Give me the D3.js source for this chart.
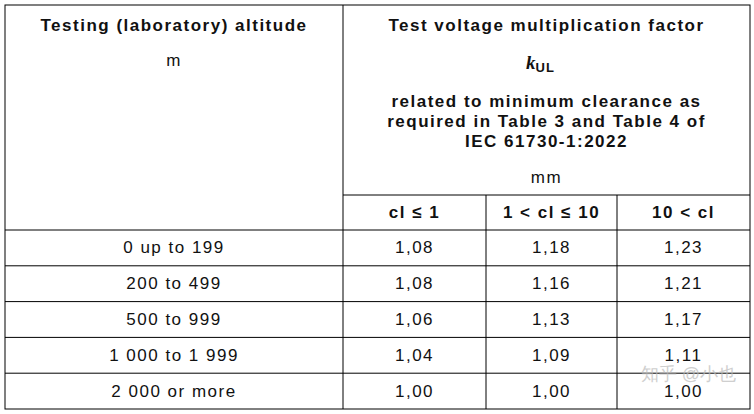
<!DOCTYPE html>
<html><head><meta charset="utf-8">
<script src="https://d3js.org/d3.v7.min.js"></script>
<style>body{margin:0;background:#fff}text{font-family:"Liberation Sans",Arial,sans-serif;fill:#111}</style>
</head><body><svg id="c" width="754" height="414"></svg>
<script>
const altitudes = ["0 up to 199","200 to 499","500 to 999","1 000 to 1 999","2 000 or more"];
const columns = ["cl ≤ 1","1 < cl ≤ 10","10 < cl"];
const clLe1 = ["1,08","1,08","1,06","1,04","1,00"];
const cl1to10 = ["1,18","1,16","1,13","1,09","1,00"];
const clGt10 = ["1,23","1,21","1,17","1,11","1,00"];
const series = [clLe1, cl1to10, clGt10];

const svg = d3.select("#c");
const L=5, R=750, T=5, B=409, split=343, subTop=195, dataTop=230;
const x = d3.scaleOrdinal().domain(columns).range([[343,486],[486,617],[617,750]]);
const y = d3.scaleBand().domain(altitudes).range([dataTop,B]);
const fs = 17;
const g = svg.append("g");
const line=(x1,y1,x2,y2)=>g.append("line").attr("x1",x1).attr("y1",y1).attr("x2",x2).attr("y2",y2).attr("stroke","#000").attr("stroke-width",1);
g.append("rect").attr("x",L).attr("y",T).attr("width",R-L).attr("height",B-T).attr("fill","none").attr("stroke","#000");
line(split,T,split,B);
line(split,subTop,R,subTop);
line(L,dataTop,R,dataTop);
columns.slice(1).forEach(c=>line(x(c)[0],subTop,x(c)[0],B));
altitudes.slice(1).forEach(a=>line(L,y(a),R,y(a)));
const txt=(s,cx,cy,bold)=>g.append("text").attr("x",cx).attr("y",cy).attr("text-anchor","middle").attr("dominant-baseline","central").attr("font-size",fs).attr("letter-spacing",1.5).attr("font-weight",bold?"bold":"normal").text(s);
const lc=(L+split)/2, rc=(split+R)/2;
txt("Testing (laboratory) altitude",lc,25,true);
txt("m",lc,60,false);
txt("Test voltage multiplication factor",rc,25,true);
const k=g.append("text").attr("x",rc-6).attr("y",62).attr("text-anchor","middle").attr("dominant-baseline","central").attr("font-size",19);
k.append("tspan").attr("font-family","Liberation Serif,serif").attr("font-style","italic").attr("font-weight","bold").text("k");
k.append("tspan").attr("font-size",13).attr("font-weight","bold").attr("dy",5).attr("letter-spacing",1).text("UL");
txt("related to minimum clearance as",rc,101,true);
txt("required in Table 3 and Table 4 of",rc,121,true);
txt("IEC 61730-1:2022",rc,141,true);
txt("mm",rc,177,false);
columns.forEach(c=>{const r=x(c);txt(c,(r[0]+r[1])/2,212,true);});
altitudes.forEach((a,i)=>{
  const cy=y(a)+y.bandwidth()/2;
  txt(a,lc,cy,false);
  columns.forEach((c,j)=>{const r=x(c);txt(series[j][i],(r[0]+r[1])/2,cy,false);});
});
g.append("text").attr("x",736).attr("y",380).attr("text-anchor","end").attr("font-size",18).attr("font-family","Noto Sans CJK SC").style("fill","#bbb").style("opacity",0.7).text("知乎 @小也");
</script></body></html>
